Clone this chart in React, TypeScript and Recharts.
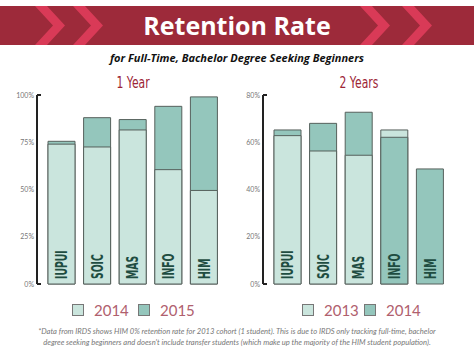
import { BarChart, Bar, XAxis, YAxis, Cell } from "recharts";

const categories = ["IUPUI", "SOIC", "MAS", "INFO", "HIM"];

// 1 Year retention (%)
const oneYearLabels = ["2014", "2015"];
const oneYear2014 = [74, 72.5, 81.5, 60.5, 49.5];
const oneYear2015 = [75.5, 88, 87, 94, 99];
const oneYearTicks = [0, 25, 50, 75, 100];

// 2 Years retention (%)
const twoYearLabels = ["2013", "2014"];
const twoYear2013 = [62.8, 56.3, 54.5, 65.2, 0];
const twoYear2014 = [65.2, 68, 72.7, 62.1, 48.7];
const twoYearTicks = [0, 20, 40, 60, 80];

const LIGHT = "#cae5dd";
const DARK = "#94c6bc";
const STROKE = "#56605c";
const RED = "#9c2536";
const CONDENSED = "'DejaVu Sans', sans-serif";

function buildRows(a: number[], b: number[]) {
  // overlapping bars: the larger value sits behind, the smaller in front
  return categories.map((name, i) => ({
    name,
    back: Math.max(a[i], b[i]),
    front: Math.min(a[i], b[i]),
    backFill: b[i] >= a[i] ? DARK : LIGHT,
    frontFill: b[i] >= a[i] ? LIGHT : DARK,
  }));
}

function YTick(props: any) {
  const { x, y, payload, index, visibleTicksCount } = props;
  const isEnd = index === 0 || index === visibleTicksCount - 1;
  return (
    <g>
      <text
        x={x}
        y={y}
        dy={2.5}
        textAnchor="end"
        fill="#777"
        fontSize={7}
        fontFamily="Lato, sans-serif"
      >
        {payload.value}%
      </text>
      {isEnd && (
        <line x1={x + 3} x2={x + 7} y1={y} y2={y} stroke="#222" strokeWidth={2} />
      )}
    </g>
  );
}

function XTick(props: any) {
  const { x, payload } = props;
  const y0 = 279;
  return (
    <text
      x={0}
      y={0}
      transform={`translate(${x} ${y0}) rotate(-90) scale(0.62 1)`}
      textAnchor="start"
      dominantBaseline="central"
      fill="#1f4d41"
      fontSize={15}
      fontWeight={700}
      fontFamily={CONDENSED}
    >
      {payload.value}
    </text>
  );
}

function Panel({
  left,
  title,
  rows,
  ticks,
  yWidth,
  rightMargin,
}: {
  left: number;
  title: string;
  rows: ReturnType<typeof buildRows>;
  ticks: number[];
  yWidth: number;
  rightMargin: number;
}) {
  return (
    <div style={{ position: "absolute", left, top: 0 }}>
      <BarChart
        width={237}
        height={300}
        data={rows}
        margin={{ top: 95, right: rightMargin, bottom: 0, left: 0 }}
        barSize={27}
        barGap={-27}
      >
        <XAxis
          dataKey="name"
          axisLine={false}
          tickLine={false}
          tick={<XTick />}
          interval={0}
          height={16}
          padding={{ left: 7, right: 0 }}
        />
        <YAxis
          domain={[ticks[0], ticks[ticks.length - 1]]}
          ticks={ticks}
          width={yWidth}
          tickSize={0}
          tickMargin={3}
          tickLine={false}
          axisLine={{ stroke: "#222", strokeWidth: 2 }}
          tick={<YTick />}
          interval={0}
        />
        <Bar dataKey="back" isAnimationActive={false} stroke={STROKE} strokeWidth={1}>
          {rows.map((r) => (
            <Cell key={r.name} fill={r.backFill} />
          ))}
        </Bar>
        <Bar dataKey="front" isAnimationActive={false} stroke={STROKE} strokeWidth={1}>
          {rows.map((r) => (
            <Cell key={r.name} fill={r.frontFill} />
          ))}
        </Bar>
      </BarChart>
      <div
        style={{
          position: "absolute",
          top: 74,
          left: yWidth,
          width: 237 - yWidth - rightMargin + 7,
          textAlign: "center",
          lineHeight: "18px",
        }}
      >
        <span
          style={{
            display: "inline-block",
            transform: "scaleX(0.72)",
            color: RED,
            fontSize: 15,
            fontFamily: CONDENSED,
          }}
        >
          {title}
        </span>
      </div>
    </div>
  );
}

function LegendItem({ x, color, label }: { x: number; color: string; label: string }) {
  return (
    <div style={{ position: "absolute", left: x, top: 302, display: "flex", alignItems: "center" }}>
      <div
        style={{
          width: 10,
          height: 10,
          background: color,
          border: "1px solid #777",
          marginRight: 10,
        }}
      />
      <span style={{ color: "#b0606e", fontSize: 15, fontFamily: "Lato, sans-serif", lineHeight: "16px" }}>
        {label}
      </span>
    </div>
  );
}

function Chevron({ x }: { x: number }) {
  return <polygon points={`${x},6 ${x + 12},6 ${x + 30},25.5 ${x + 12},45 ${x},45 ${x + 18},25.5`} fill="#d93a57" />;
}

export default function App() {
  const rows1 = buildRows(oneYear2014, oneYear2015);
  const rows2 = buildRows(twoYear2013, twoYear2014);
  return (
    <div
      style={{
        position: "absolute",
        left: 0,
        top: 0,
        width: 474,
        height: 355,
        background: "#fff",
        overflow: "hidden",
      }}
    >
      <svg width={474} height={50} style={{ position: "absolute", left: 0, top: 0 }}>
        <rect x={0} y={6} width={474} height={39} fill="#9d2a3a" />
        <Chevron x={35} />
        <Chevron x={73} />
        <Chevron x={360} />
        <Chevron x={402} />
      </svg>
      <div
        style={{
          position: "absolute",
          top: 6,
          left: 0,
          width: 474,
          height: 39,
          lineHeight: "39px",
          textAlign: "center",
          color: "#fff",
          fontSize: 25,
          fontWeight: 700,
          fontFamily: "'Open Sans', sans-serif",
        }}
      >
        Retention Rate
      </div>
      <div
        style={{
          position: "absolute",
          top: 50,
          left: 0,
          width: 474,
          textAlign: "center",
          color: "#111",
          fontSize: 11,
          fontWeight: 700,
          fontStyle: "italic",
          fontFamily: "'Open Sans', sans-serif",
          lineHeight: "16px",
        }}
      >
        for Full-Time, Bachelor Degree Seeking Beginners
      </div>

      <Panel left={0} title="1 Year" rows={rows1} ticks={oneYearTicks} yWidth={37} rightMargin={15} />
      <Panel left={237} title="2 Years" rows={rows2} ticks={twoYearTicks} yWidth={26} rightMargin={26} />

      <LegendItem x={72} color={LIGHT} label={oneYearLabels[0]} />
      <LegendItem x={138} color={DARK} label={oneYearLabels[1]} />
      <LegendItem x={302} color={LIGHT} label={twoYearLabels[0]} />
      <LegendItem x={364} color={DARK} label={twoYearLabels[1]} />

      <div
        style={{
          position: "absolute",
          top: 326,
          left: 0,
          width: 474,
          textAlign: "center",
          color: "#777",
          fontSize: 7.6,
          fontStyle: "italic",
          fontFamily: "Lato, sans-serif",
          lineHeight: "11px",
        }}
      >
        *Data from IRDS shows HIM 0% retention rate for 2013 cohort (1 student). This is due to IRDS only tracking full-time, bachelor
        <br />
        degree seeking beginners and doesn't include transfer students (which make up the majority of the HIM student population).
      </div>
    </div>
  );
}
